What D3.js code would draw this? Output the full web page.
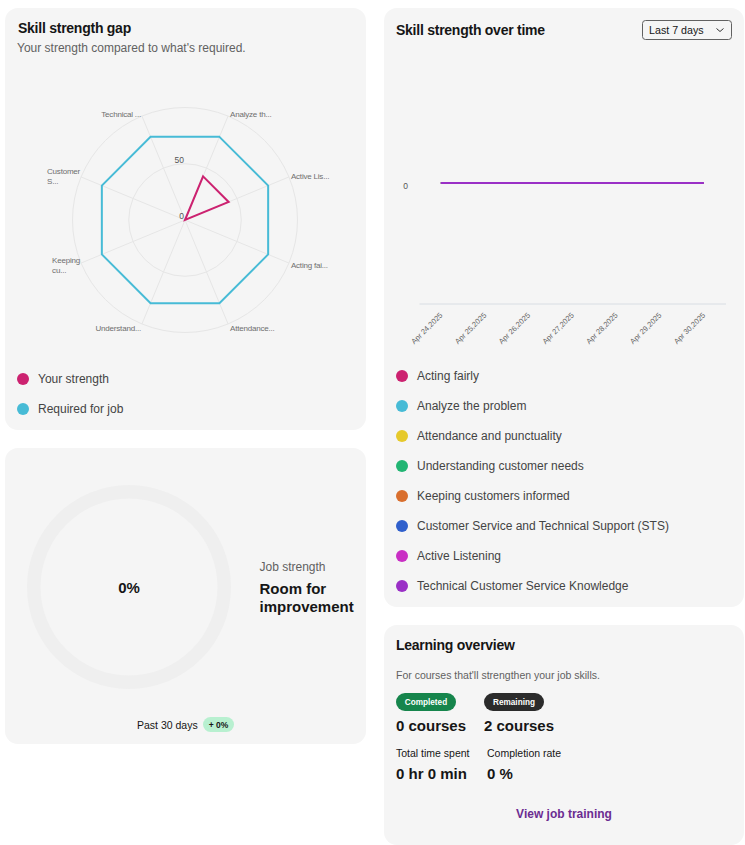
<!DOCTYPE html>
<html>
<head>
<meta charset="utf-8">
<title>Skill strength</title>
<script src="https://cdnjs.cloudflare.com/ajax/libs/d3/7.8.5/d3.min.js"></script>
<style>
  html, body { margin: 0; padding: 0; background: #fff; }
  svg { display: block; }
  text { font-family: "Liberation Sans", Arial, sans-serif; }
</style>
</head>
<body>
<div id="chart"></div>
<script>
// radar data
const radarLabels = [
    ["Analyze th..."], ["Active Lis..."], ["Acting fai..."], ["Attendance..."],
    ["Understand..."], ["Keeping", "cu..."], ["Customer", "S..."], ["Technical ..."]
];
const yourStrength = [42, 42, 0, 0, 0, 0, 0, 0];
const requiredForJob = [80, 80, 80, 80, 80, 80, 80, 80];
const radarTicks = [0, 50, 100];
const radarLegend = ["Your strength", "Required for job"];
const radarColors = ["#cc2270", "#47bbd6"];

// line chart data
const days = ["Apr 24,2025", "Apr 25,2025", "Apr 26,2025", "Apr 27,2025", "Apr 28,2025", "Apr 29,2025", "Apr 30,2025"];
const skillNames = [
    "Acting fairly", "Analyze the problem", "Attendance and punctuality",
    "Understanding customer needs", "Keeping customers informed",
    "Customer Service and Technical Support (STS)", "Active Listening",
    "Technical Customer Service Knowledge"
];
const skillColors = ["#cc2270", "#47bbd6", "#e6c92b", "#22b573", "#d96f2e", "#3060cc", "#c92fc4", "#9a30c6"];
const skillValues = [
    [0, 0, 0, 0, 0, 0, 0],
    [0, 0, 0, 0, 0, 0, 0],
    [0, 0, 0, 0, 0, 0, 0],
    [0, 0, 0, 0, 0, 0, 0],
    [0, 0, 0, 0, 0, 0, 0],
    [0, 0, 0, 0, 0, 0, 0],
    [0, 0, 0, 0, 0, 0, 0],
    [0, 0, 0, 0, 0, 0, 0]
];

// job strength
const jobStrength = 0;

const svg = d3.select("#chart")
    .append("svg")
    .attr("width", 745)
    .attr("height", 845);

// cards
const cards = [
    { x: 5, y: 8, w: 361, h: 422 },
    { x: 5, y: 448, w: 361, h: 296 },
    { x: 384, y: 8, w: 360, h: 599 },
    { x: 384, y: 625, w: 360, h: 220 }
];
svg.selectAll(".card")
    .data(cards)
    .join("rect")
    .attr("class", "card")
    .attr("x", d => d.x)
    .attr("y", d => d.y)
    .attr("width", d => d.w)
    .attr("height", d => d.h)
    .attr("rx", 13)
    .attr("fill", "#f5f5f5");

function label(x, y, str, size, color, weight, anchor) {
    return svg.append("text")
        .attr("x", x)
        .attr("y", y)
        .attr("font-size", size)
        .attr("fill", color)
        .attr("font-weight", weight || "normal")
        .attr("text-anchor", anchor || "start")
        .text(str);
}

// card titles are a touch tighter than plain bold
function title(x, y, str) {
    return label(x, y, str, 14, "#161616", "bold").attr("letter-spacing", -0.25);
}

// Skill strength gap
title(18, 33, "Skill strength gap");
label(17, 52, "Your strength compared to what's required.", 12, "#616161");

const radar = svg.append("g").attr("transform", "translate(185,220)");
const r = d3.scaleLinear().domain([0, 100]).range([0, 112.5]);
const angle = i => Math.PI / 8 + i * Math.PI / 4;

radar.selectAll(".ring")
    .data(radarTicks.slice(1))
    .join("circle")
    .attr("r", d => r(d))
    .attr("fill", "none")
    .attr("stroke", "#e6e6e6");

radar.selectAll(".spoke")
    .data(radarLabels)
    .join("line")
    .attr("x2", (d, i) => r(100) * Math.sin(angle(i)))
    .attr("y2", (d, i) => -r(100) * Math.cos(angle(i)))
    .attr("stroke", "#e6e6e6");

const radarLine = d3.lineRadial()
    .angle((d, i) => angle(i))
    .radius(d => r(d))
    .curve(d3.curveLinearClosed);

radar.append("path")
    .attr("d", radarLine(requiredForJob))
    .attr("fill", "none")
    .attr("stroke", radarColors[1])
    .attr("stroke-width", 2);

radar.append("path")
    .attr("d", radarLine(yourStrength))
    .attr("fill", "none")
    .attr("stroke", radarColors[0])
    .attr("stroke-width", 2);

radar.selectAll(".rtick")
    .data(radarTicks.slice(0, 2))
    .join("text")
    .attr("x", -1)
    .attr("y", d => -r(d) - 1)
    .attr("text-anchor", "end")
    .attr("font-size", 8.5)
    .attr("fill", "#555")
    .text(d => d);

// axis labels, left side ones are pushed out by their widest line
radarLabels.forEach((lines, i) => {
    const a = angle(i);
    const px = r(100) * Math.sin(a);
    const py = -r(100) * Math.cos(a);
    const right = px > 0;
    const t = radar.append("text")
        .attr("font-size", 8)
        .attr("letter-spacing", -0.2)
        .attr("fill", "#6e6e6e");
    lines.forEach((s, j) => {
        t.append("tspan").attr("dy", j ? 10 : 0).text(s);
    });
    const widest = d3.max(t.selectAll("tspan").nodes(), n => n.getComputedTextLength());
    const x = right ? px + 2 : px - 1 - widest;
    let y;
    if (Math.abs(py) > 80) y = py + (py < 0 ? 0.5 : 7);
    else if (lines.length > 1) y = py + (py < 0 ? -3 : 0);
    else y = py + (py < 0 ? 2 : 5);
    t.attr("y", y);
    t.selectAll("tspan").attr("x", x);
});

radarLegend.forEach((name, i) => {
    const y = 379 + i * 30;
    svg.append("circle").attr("cx", 23).attr("cy", y).attr("r", 6).attr("fill", radarColors[i]);
    label(38, y + 4, name, 12, "#444");
});

// Job strength donut
const donut = svg.append("g").attr("transform", "translate(129,587)");
const arc = d3.arc().innerRadius(88.5).outerRadius(102);
const pie = d3.pie().sort(null)([jobStrength, 100 - jobStrength]);
donut.selectAll("path")
    .data(pie)
    .join("path")
    .attr("d", arc)
    .attr("fill", (d, i) => i ? "#efefef" : "#cc2270");
label(129, 593, jobStrength + "%", 15, "#161616", "bold", "middle");

label(259.5, 571, "Job strength", 12, "#616161");
label(259.5, 594, "Room for", 15, "#161616", "bold");
label(259.5, 612, "improvement", 15, "#161616", "bold");
label(137, 729, "Past 30 days", 10.5, "#161616");
svg.append("rect").attr("x", 203).attr("y", 717).attr("width", 31).attr("height", 15).attr("rx", 7.5).attr("fill", "#b8f0d0");
label(218.5, 727.5, "+ 0%", 8.5, "#161616", "bold", "middle");

// Skill strength over time
title(396, 35, "Skill strength over time");
svg.append("rect")
    .attr("x", 642.5).attr("y", 20.5).attr("width", 89).attr("height", 19).attr("rx", 3)
    .attr("fill", "none").attr("stroke", "#616161");
label(649, 34, "Last 7 days", 10.7, "#161616");
svg.append("path")
    .attr("d", d3.line()([[716.5, 28.5], [720, 31.5], [723.5, 28.5]]))
    .attr("fill", "none").attr("stroke", "#333").attr("stroke-width", 1);

const x = d3.scalePoint().domain(days).range([419, 725.5]).padding(0.5);
const y = d3.scaleLinear().domain([-1, 1]).range([303.5, 62.5]);

svg.append("g")
    .attr("transform", "translate(419,0)")
    .call(d3.axisLeft(y).tickValues([0]).tickFormat(d3.format("d")).tickSize(0).tickPadding(11))
    .call(g => g.select(".domain").remove())
    .selectAll("text")
    .attr("font-family", "'Liberation Sans', Arial, sans-serif")
    .attr("font-size", 8.5)
    .attr("dy", "0.6em")
    .attr("fill", "#555");

svg.append("g")
    .attr("transform", "translate(0,303.5)")
    .call(d3.axisBottom(x).tickSize(0).tickPadding(0))
    .call(g => g.select(".domain").attr("stroke", "#d8dde3"))
    .selectAll("text")
    .attr("font-family", "'Liberation Sans', Arial, sans-serif")
    .attr("font-size", 7.5)
    .attr("fill", "#666")
    .attr("text-anchor", "end")
    .attr("transform", "translate(-1.5,9) rotate(-45)")
    .attr("dy", "0.6em");

const line = d3.line()
    .x((d, i) => x(days[i]))
    .y(d => y(d));

svg.selectAll(".series")
    .data(skillValues)
    .join("path")
    .attr("class", "series")
    .attr("d", line)
    .attr("fill", "none")
    .attr("stroke", (d, i) => skillColors[i])
    .attr("stroke-width", 2);

skillNames.forEach((name, i) => {
    const ly = 376 + i * 30;
    svg.append("circle").attr("cx", 402).attr("cy", ly).attr("r", 6).attr("fill", skillColors[i]);
    label(417, ly + 4, name, 12, "#444");
});

// Learning overview
title(396, 650, "Learning overview");
label(396, 679, "For courses that'll strengthen your job skills.", 10.5, "#616161");

svg.append("rect").attr("x", 396).attr("y", 693).attr("width", 60).attr("height", 18).attr("rx", 9).attr("fill", "#16854c");
label(426, 704.5, "Completed", 8.2, "#fff", "bold", "middle");
svg.append("rect").attr("x", 484).attr("y", 693).attr("width", 60).attr("height", 18).attr("rx", 9).attr("fill", "#2b2b2b");
label(514, 704.5, "Remaining", 8.2, "#fff", "bold", "middle");

label(396, 731, "0 courses", 15, "#161616", "bold");
label(484, 731, "2 courses", 15, "#161616", "bold");
label(396, 757, "Total time spent", 10.5, "#161616");
label(487, 757, "Completion rate", 10.5, "#161616");
label(396, 779, "0 hr 0 min", 15, "#161616", "bold");
label(487, 779, "0 %", 15, "#161616", "bold");
label(564, 818, "View job training", 12, "#6b2c91", "bold", "middle");
</script>
</body>
</html>
